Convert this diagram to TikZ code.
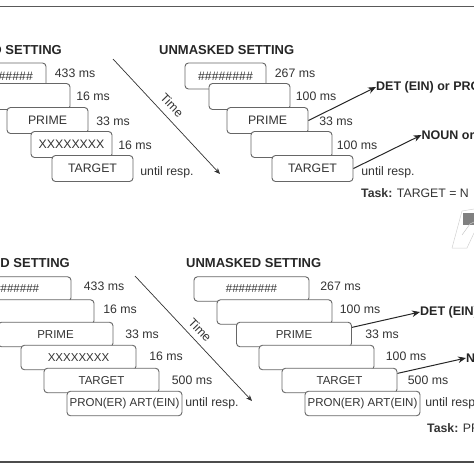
\documentclass[tikz,border=0pt]{standalone}
\usepackage{fontspec}
\setmainfont{Liberation Sans}
\usetikzlibrary{arrows.meta}
\definecolor{inkgray}{gray}{0.2}
\definecolor{boxgray}{gray}{0.4}
\tikzset{
    slide/.style={draw=boxgray, fill=white, line width=0.9pt, rounded corners=3.5pt, inner sep=0pt, text=inkgray},
    topslide/.style={slide, minimum width=81pt, minimum height=26pt, font=\fontsize{12.3}{14}\selectfont},
    lowslide/.style={slide, minimum width=115pt, minimum height=24.5pt, font=\fontsize{11.5}{14}\selectfont},
    lab/.style={inner sep=0pt, text=inkgray, font=\fontsize{12.3}{14}\selectfont},
    head/.style={inner sep=0pt, text=black!85, font=\bfseries\fontsize{13}{15}\selectfont},
    answer/.style={inner sep=0pt, anchor=west, text=black!85, font=\bfseries\fontsize{12.5}{15}\selectfont},
    resp/.style={-{Stealth[length=8pt,width=6.5pt]}, line width=1pt, black!85},
    timeline/.style={-{Stealth[length=6pt,width=5pt]}, line width=0.7pt, inkgray}
}
\begin{document}
\begin{tikzpicture}[x=1pt, y=-1pt]
    \useasboundingbox (0,0) rectangle (474,474);
    \clip (0,0) rectangle (474,474);
    % frame lines
    \fill[black!65] (0,5.8) rectangle (474,7.2);
    \fill[black!70] (0,461.2) rectangle (474,462.8);
    % top row
    \foreach \i/\x/\y/\t in {1/5.5/76/{\#\#\#\#\#\#\#\#},2/29.5/96.5/{},3/47.5/120.5/PRIME,4/71.5/144.5/XXXXXXXX,5/92.5/168.5/TARGET}
        \node[topslide] (a\i) at (\x,\y) {\t};
    \foreach \i/\x/\y/\t in {1/225.5/76/{\#\#\#\#\#\#\#\#},2/249.5/96.5/{},3/267.5/120.5/PRIME,4/291.5/144.5/{},5/312.5/168.5/TARGET}
        \node[topslide] (b\i) at (\x,\y) {\t};
    % bottom row
    \foreach \i/\x/\y/\t in {1/13.5/289/{\#\#\#\#\#\#\#\#},2/36.5/312/{},3/55.5/334.5/PRIME,4/78.5/357.5/XXXXXXXX,5/101.5/380.5/TARGET,6/124.5/403.5/{PRON(ER) ART(EIN)}}
        \node[lowslide] (c\i) at (\x,\y) {\t};
    \foreach \i/\x/\y/\t in {1/251.5/289/{\#\#\#\#\#\#\#\#},2/274.5/312/{},3/294/334.5/PRIME,4/316.5/357.5/{},5/339.5/380.5/TARGET,6/362.5/403.5/{PRON(ER) ART(EIN)}}
        \node[lowslide] (d\i) at (\x,\y) {\t};
    % durations
    \foreach \i/\x/\y/\t in {1/75/73/433 ms,2/93/96.5/16 ms,3/113/121/33 ms,4/135/145/16 ms,5/167/172/until resp.,
                             6/295/73/267 ms,7/316/96.5/100 ms,8/336/121/33 ms,9/357/145/100 ms,10/388/172/until resp.,
                             11/104/286/433 ms,12/120/309/16 ms,13/142/334/33 ms,14/166/356/16 ms,15/192/380/500 ms,16/212/403/until resp.,
                             17/340.5/286/267 ms,18/360/309/100 ms,19/382/334/33 ms,20/406/356/100 ms,21/428/380/500 ms,22/452/403/until resp.}
        \node[lab] (t\i) at (\x,\y) {\t};
    % headings
    \node[head, anchor=east] (h1) at (62,50) {MASKED SETTING};
    \node[head, anchor=west] (h2) at (159,50.5) {UNMASKED SETTING};
    \node[head, anchor=east] (h3) at (70,263.5) {MASKED SETTING};
    \node[head, anchor=west] (h4) at (186,263) {UNMASKED SETTING};
    % time arrows
    \coordinate (s1) at (113,59);
    \coordinate (e1) at (220,174);
    \coordinate (s2) at (135,276);
    \coordinate (e2) at (252,401);
    \draw[timeline] (s1) -- (e1);
    \draw[timeline] (s2) -- (e2);
    \node[lab, rotate=-46] (u1) at (172,105.5) {Time};
    \node[lab, rotate=-46] (u2) at (200,330) {Time};
    % responses
    \node[answer] (r1) at (376,87) {DET (EIN) or PRON};
    \node[answer] (r2) at (421.5,135) {NOUN or};
    \node[answer] (r3) at (420,312) {DET (EIN)};
    \node[answer] (r4) at (466,358) {NOUN};
    \draw[resp] (b3.east) -- (r1.west);
    \draw[resp] (b5.east) -- (r2.west);
    \draw[resp] (d3.7) -- (r3.west);
    \draw[resp] (d5.7) -- (r4.west);
    % task lines
    \node[lab, anchor=west] (k1) at (361,193) {\textbf{Task:} TARGET = N};
    \node[lab, anchor=west] (k2) at (427,428) {\textbf{Task:} PRIME};
    % hand
    \draw[black!18, line width=0.5pt] (452,248) -- (462,211) -- (474,209) (467,248) -- (452,248) (467,248) -- (474,233);
    \fill[black!50] (463,213) rectangle (474,225);
    \draw[black!22, line width=0.5pt] (462,235) -- (470,224) -- (474,222);
\end{tikzpicture}
\end{document}
